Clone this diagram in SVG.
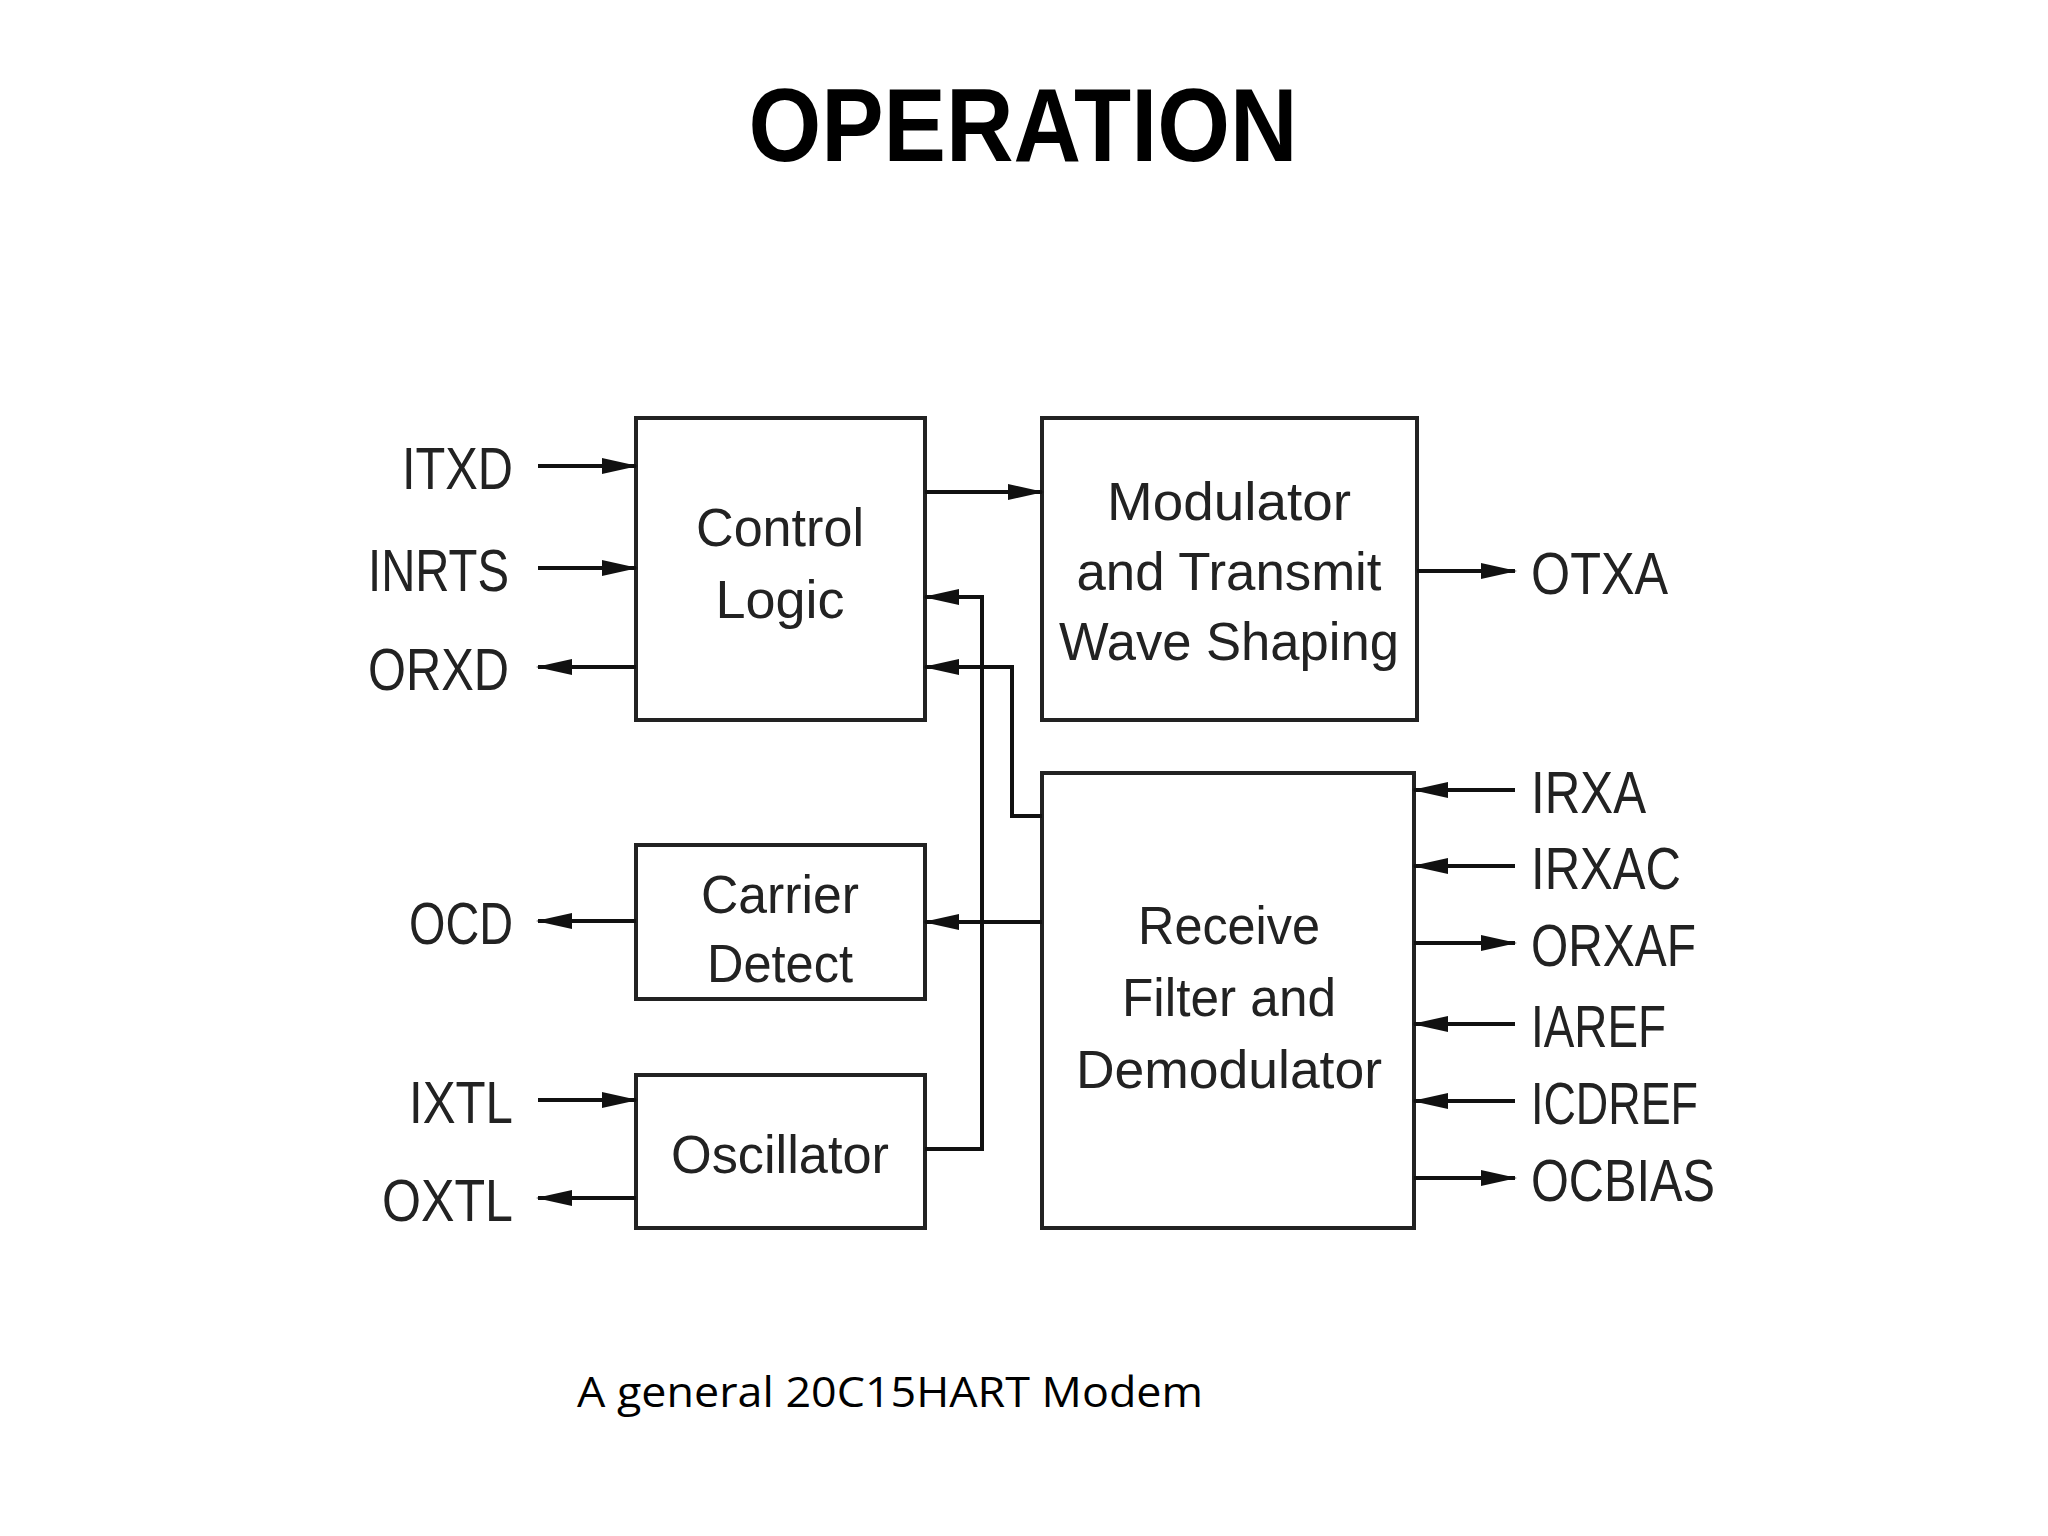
<svg xmlns="http://www.w3.org/2000/svg" width="2048" height="1536" viewBox="0 0 2048 1536">
<style>
.box{fill:#fff;stroke:#222;stroke-width:4}
.w{fill:none;stroke:#111;stroke-width:4}
.p{font-family:"Liberation Sans",Arial,sans-serif;font-size:60px;fill:#222}
.b{font-family:"Liberation Sans",Arial,sans-serif;font-size:54px;fill:#222;text-anchor:middle}
</style>
<defs>
<marker id="ah" viewBox="0 0 36 20" refX="34" refY="10" markerWidth="36" markerHeight="20" orient="auto" markerUnits="userSpaceOnUse"><path d="M0,2 L36,10 L0,18 z" fill="#111"/></marker></defs>
<rect width="2048" height="1536" fill="#fff"/>
<text x="1023" y="161" text-anchor="middle" font-family="Liberation Sans,Arial,sans-serif" font-weight="bold" font-size="104" textLength="549" lengthAdjust="spacingAndGlyphs">OPERATION</text>
<text x="577" y="1407" font-family="Open Sans,Liberation Sans,sans-serif" font-size="42" textLength="626" lengthAdjust="spacingAndGlyphs">A general 20C15HART Modem</text>
<g id="control"><rect class="box" x="636" y="418" width="289" height="302"/><text class="b" x="780" y="546" textLength="168" lengthAdjust="spacingAndGlyphs">Control</text><text class="b" x="780" y="618">Logic</text></g>
<g id="modulator"><rect class="box" x="1042" y="418" width="375" height="302"/><text class="b" x="1229" y="520" textLength="244" lengthAdjust="spacingAndGlyphs">Modulator</text><text class="b" x="1229" y="590" textLength="305" lengthAdjust="spacingAndGlyphs">and Transmit</text><text class="b" x="1229" y="660" textLength="340" lengthAdjust="spacingAndGlyphs">Wave Shaping</text></g>
<g id="receive"><rect class="box" x="1042" y="773" width="372" height="455"/><text class="b" x="1229" y="944" textLength="182" lengthAdjust="spacingAndGlyphs">Receive</text><text class="b" x="1229" y="1016" textLength="214" lengthAdjust="spacingAndGlyphs">Filter and</text><text class="b" x="1229" y="1088" textLength="306" lengthAdjust="spacingAndGlyphs">Demodulator</text></g>
<g id="carrier"><rect class="box" x="636" y="845" width="289" height="154"/><text class="b" x="780" y="913" textLength="158" lengthAdjust="spacingAndGlyphs">Carrier</text><text class="b" x="780" y="982" textLength="146" lengthAdjust="spacingAndGlyphs">Detect</text></g>
<g id="oscillator"><rect class="box" x="636" y="1075" width="289" height="153"/><text class="b" x="780" y="1173" textLength="218" lengthAdjust="spacingAndGlyphs">Oscillator</text></g>
<g id="connectors">
<path class="w" marker-end="url(#ah)" d="M538,466 H636"/>
<path class="w" marker-end="url(#ah)" d="M538,568 H636"/>
<path class="w" marker-end="url(#ah)" d="M636,667 H538"/>
<path class="w" marker-end="url(#ah)" d="M636,921 H538"/>
<path class="w" marker-end="url(#ah)" d="M538,1100 H636"/>
<path class="w" marker-end="url(#ah)" d="M636,1198 H538"/>
<path class="w" marker-end="url(#ah)" d="M925,492 H1042"/>
<path class="w" marker-end="url(#ah)" d="M925,1149 H982 V597 H925"/>
<path class="w" marker-end="url(#ah)" d="M1042,816 H1012 V667 H925"/>
<path class="w" marker-end="url(#ah)" d="M1042,922 H925"/>
<path class="w" marker-end="url(#ah)" d="M1417,571 H1515"/>
<path class="w" marker-end="url(#ah)" d="M1515,790 H1414"/>
<path class="w" marker-end="url(#ah)" d="M1515,866 H1414"/>
<path class="w" marker-end="url(#ah)" d="M1414,943 H1515"/>
<path class="w" marker-end="url(#ah)" d="M1515,1024 H1414"/>
<path class="w" marker-end="url(#ah)" d="M1515,1101 H1414"/>
<path class="w" marker-end="url(#ah)" d="M1414,1178 H1515"/>
</g>
<g id="pins">
<text class="p" x="402" y="489" textLength="111" lengthAdjust="spacingAndGlyphs">ITXD</text>
<text class="p" x="368" y="591" textLength="141" lengthAdjust="spacingAndGlyphs">INRTS</text>
<text class="p" x="368" y="690" textLength="141" lengthAdjust="spacingAndGlyphs">ORXD</text>
<text class="p" x="409" y="944" textLength="104" lengthAdjust="spacingAndGlyphs">OCD</text>
<text class="p" x="409" y="1123" textLength="104" lengthAdjust="spacingAndGlyphs">IXTL</text>
<text class="p" x="382" y="1221" textLength="131" lengthAdjust="spacingAndGlyphs">OXTL</text>
<text class="p" x="1531" y="594" textLength="137" lengthAdjust="spacingAndGlyphs">OTXA</text>
<text class="p" x="1531" y="813" textLength="115" lengthAdjust="spacingAndGlyphs">IRXA</text>
<text class="p" x="1531" y="889" textLength="150" lengthAdjust="spacingAndGlyphs">IRXAC</text>
<text class="p" x="1531" y="966" textLength="165" lengthAdjust="spacingAndGlyphs">ORXAF</text>
<text class="p" x="1531" y="1047" textLength="135" lengthAdjust="spacingAndGlyphs">IAREF</text>
<text class="p" x="1531" y="1124" textLength="167" lengthAdjust="spacingAndGlyphs">ICDREF</text>
<text class="p" x="1531" y="1201" textLength="184" lengthAdjust="spacingAndGlyphs">OCBIAS</text>
</g>
</svg>
